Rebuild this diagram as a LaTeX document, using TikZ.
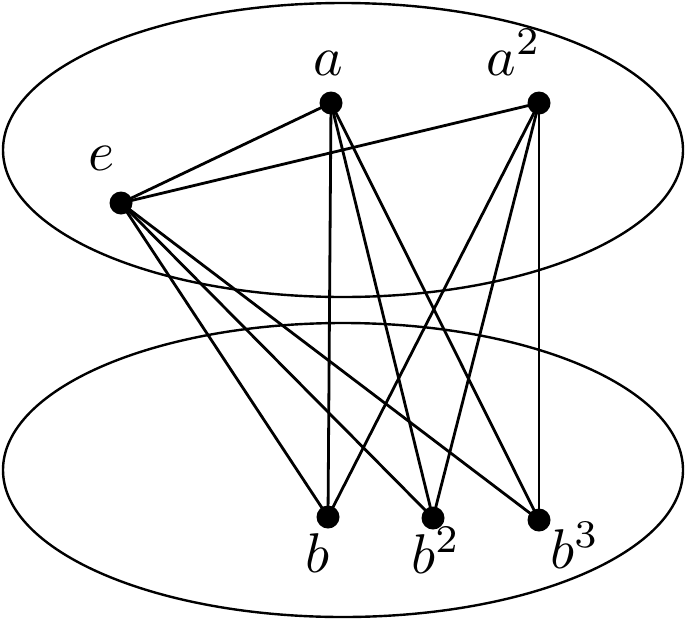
\documentclass[tikz,border=0pt]{standalone}
\usepackage{graphicx}
\newcommand{\biglab}[1]{\scalebox{5.6}{$#1$}}
\begin{document}
\begin{tikzpicture}[x=1pt,y=-1pt,
  dot/.style={circle,fill=black,inner sep=0pt,minimum size=23pt},
  edge/.style={line width=2.8pt},
  lab/.style={anchor=base,inner sep=0pt}]
\useasboundingbox (0,0) rectangle (685,619);
\draw[line width=2.4pt] (343,150) ellipse [x radius=340, y radius=147];
\draw[line width=2.4pt] (343,470) ellipse [x radius=340, y radius=147];
\node[dot] (a) at (331,103) {};
\node[dot] (a2) at (539,103) {};
\node[dot] (e) at (121,203) {};
\node[dot] (b) at (328,517) {};
\node[dot] (b2) at (433,518) {};
\node[dot] (b3) at (539,520) {};
\foreach \u/\v in {e/a,e/a2,e/b,e/b2,e/b3,a/b,a/b2,a/b3,a2/b,a2/b2,a2/b3}
  \draw[edge] (\u.center) -- (\v.center);
\node[lab] (la) at (328,75) {\biglab{a}};
\node[lab] (la2) at (514,75) {\biglab{a^2}};
\node[lab] (le) at (102,170) {\biglab{e}};
\node[lab] (lb) at (318,572) {\biglab{b}};
\node[lab] (lb2) at (436,573) {\biglab{b^2}};
\node[lab] (lb3) at (575,568) {\biglab{b^3}};
\end{tikzpicture}
\end{document}
